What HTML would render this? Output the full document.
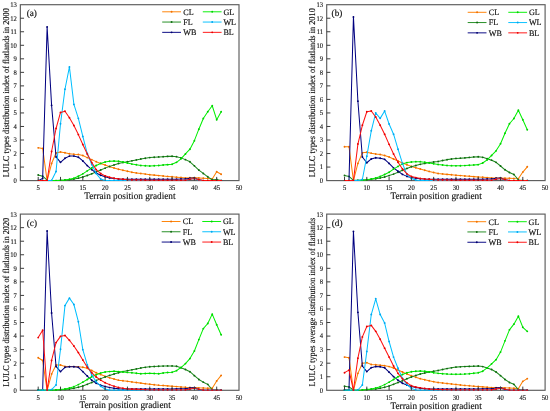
<!DOCTYPE html>
<html lang="en"><head><meta charset="utf-8"><title>LULC types distribution index of flatlands</title>
<style>html,body{margin:0;padding:0;background:#fff}body{width:550px;height:411px;overflow:hidden}svg{display:block}</style>
</head><body>
<svg width="550" height="411" viewBox="0 0 550 411" text-rendering="geometricPrecision" font-family="'Liberation Serif', 'Times New Roman', serif" fill="#111111">
<rect width="550" height="411" fill="#ffffff"/>
<g><rect x="20.35" y="4.70" width="218.65" height="175.90" fill="none" stroke="#5c5c5c" stroke-width="1.15"/>
<clipPath id="cpa"><rect x="20.35" y="4.70" width="218.65" height="176.40"/></clipPath><g clip-path="url(#cpa)">
<polyline points="38.20,147.86 42.66,148.40 47.12,180.60 51.59,163.55 56.05,153.00 60.51,151.91 64.97,152.73 69.43,153.81 73.90,154.22 78.36,154.49 82.82,155.57 87.28,157.60 91.75,159.63 96.21,161.66 100.67,163.42 105.13,165.04 109.59,166.66 114.06,168.02 118.52,169.23 122.98,170.32 127.44,171.26 131.91,172.21 136.37,172.89 140.83,173.56 145.29,174.11 149.76,174.65 154.22,175.12 158.68,175.59 163.14,176.00 167.60,176.41 172.07,176.81 176.53,177.17 180.99,177.53 185.45,177.89 189.92,177.76 194.38,177.62 198.84,177.89 203.30,178.16 207.76,178.57 212.23,178.98 216.69,171.81 221.15,174.24" fill="none" stroke="#FF8000" stroke-width="1.02" stroke-linejoin="round"/>
<path d="M38.20 147.86h0M42.66 148.40h0M47.12 180.60h0M51.59 163.55h0M56.05 153.00h0M60.51 151.91h0M64.97 152.73h0M69.43 153.81h0M73.90 154.22h0M78.36 154.49h0M82.82 155.57h0M87.28 157.60h0M91.75 159.63h0M96.21 161.66h0M100.67 163.42h0M105.13 165.04h0M109.59 166.66h0M114.06 168.02h0M118.52 169.23h0M122.98 170.32h0M127.44 171.26h0M131.91 172.21h0M136.37 172.89h0M140.83 173.56h0M145.29 174.11h0M149.76 174.65h0M154.22 175.12h0M158.68 175.59h0M163.14 176.00h0M167.60 176.41h0M172.07 176.81h0M176.53 177.17h0M180.99 177.53h0M185.45 177.89h0M189.92 177.76h0M194.38 177.62h0M198.84 177.89h0M203.30 178.16h0M207.76 178.57h0M212.23 178.98h0M216.69 171.81h0M221.15 174.24h0" stroke="#F07000" stroke-width="1.90" stroke-linecap="round" fill="none"/>
<polyline points="38.20,175.05 42.66,176.13 47.12,180.19 51.59,180.60 56.05,180.60 60.51,180.33 64.97,180.06 69.43,179.65 73.90,178.98 78.36,178.16 82.82,176.95 87.28,175.46 91.75,173.83 96.21,171.94 100.67,170.05 105.13,168.15 109.59,166.39 114.06,164.90 118.52,163.55 122.98,162.47 127.44,161.66 131.91,160.85 136.37,159.90 140.83,158.95 145.29,158.27 149.76,157.60 154.22,157.26 158.68,156.92 163.14,156.65 167.60,156.38 172.07,156.24 176.53,156.65 180.99,157.87 185.45,159.63 189.92,161.79 194.38,165.85 198.84,170.05 203.30,173.43 207.76,176.81 212.23,179.79 216.69,179.52 221.15,180.60" fill="none" stroke="#1E8A1E" stroke-width="1.02" stroke-linejoin="round"/>
<path d="M38.20 175.05h0M42.66 176.13h0M47.12 180.19h0M51.59 180.60h0M56.05 180.60h0M60.51 180.33h0M64.97 180.06h0M69.43 179.65h0M73.90 178.98h0M78.36 178.16h0M82.82 176.95h0M87.28 175.46h0M91.75 173.83h0M96.21 171.94h0M100.67 170.05h0M105.13 168.15h0M109.59 166.39h0M114.06 164.90h0M118.52 163.55h0M122.98 162.47h0M127.44 161.66h0M131.91 160.85h0M136.37 159.90h0M140.83 158.95h0M145.29 158.27h0M149.76 157.60h0M154.22 157.26h0M158.68 156.92h0M163.14 156.65h0M167.60 156.38h0M172.07 156.24h0M176.53 156.65h0M180.99 157.87h0M185.45 159.63h0M189.92 161.79h0M194.38 165.85h0M198.84 170.05h0M203.30 173.43h0M207.76 176.81h0M212.23 179.79h0M216.69 179.52h0M221.15 180.60h0" stroke="#0F6A0F" stroke-width="1.90" stroke-linecap="round" fill="none"/>
<polyline points="38.20,180.60 42.66,178.57 47.12,26.89 51.59,105.37 56.05,156.92 60.51,162.33 64.97,158.27 69.43,156.11 73.90,156.11 78.36,157.19 82.82,160.98 87.28,165.58 91.75,169.64 96.21,173.02 100.67,175.19 105.13,176.81 109.59,177.89 114.06,178.57 118.52,178.98 122.98,179.25 127.44,179.25 131.91,179.25 136.37,179.25 140.83,179.25 145.29,179.25 149.76,179.25 154.22,179.25 158.68,179.25 163.14,179.25 167.60,179.25 172.07,179.25 176.53,179.16 180.99,179.07 185.45,178.98 189.92,178.30 194.38,177.89 198.84,179.79 203.30,180.60 207.76,180.60 212.23,180.60 216.69,180.60 221.15,180.60" fill="none" stroke="#000080" stroke-width="1.02" stroke-linejoin="round"/>
<path d="M38.20 180.60h0M42.66 178.57h0M47.12 26.89h0M51.59 105.37h0M56.05 156.92h0M60.51 162.33h0M64.97 158.27h0M69.43 156.11h0M73.90 156.11h0M78.36 157.19h0M82.82 160.98h0M87.28 165.58h0M91.75 169.64h0M96.21 173.02h0M100.67 175.19h0M105.13 176.81h0M109.59 177.89h0M114.06 178.57h0M118.52 178.98h0M122.98 179.25h0M127.44 179.25h0M131.91 179.25h0M136.37 179.25h0M140.83 179.25h0M145.29 179.25h0M149.76 179.25h0M154.22 179.25h0M158.68 179.25h0M163.14 179.25h0M167.60 179.25h0M172.07 179.25h0M176.53 179.16h0M180.99 179.07h0M185.45 178.98h0M189.92 178.30h0M194.38 177.89h0M198.84 179.79h0M203.30 180.60h0M207.76 180.60h0M212.23 180.60h0M216.69 180.60h0M221.15 180.60h0" stroke="#000070" stroke-width="1.90" stroke-linecap="round" fill="none"/>
<polyline points="38.20,180.60 42.66,180.60 47.12,180.60 51.59,180.60 56.05,180.60 60.51,180.33 64.97,179.92 69.43,179.25 73.90,178.16 78.36,176.27 82.82,173.83 87.28,170.86 91.75,168.02 96.21,165.45 100.67,163.42 105.13,162.06 109.59,161.25 114.06,160.98 118.52,161.25 122.98,161.93 127.44,163.01 131.91,164.09 136.37,164.77 140.83,165.45 145.29,165.72 149.76,165.99 154.22,165.72 158.68,165.45 163.14,165.04 167.60,164.63 172.07,164.23 176.53,162.33 180.99,158.82 185.45,153.94 189.92,149.21 194.38,140.68 198.84,129.18 203.30,118.49 207.76,111.73 212.23,105.77 216.69,119.71 221.15,111.73" fill="none" stroke="#00F000" stroke-width="1.02" stroke-linejoin="round"/>
<path d="M38.20 180.60h0M42.66 180.60h0M47.12 180.60h0M51.59 180.60h0M56.05 180.60h0M60.51 180.33h0M64.97 179.92h0M69.43 179.25h0M73.90 178.16h0M78.36 176.27h0M82.82 173.83h0M87.28 170.86h0M91.75 168.02h0M96.21 165.45h0M100.67 163.42h0M105.13 162.06h0M109.59 161.25h0M114.06 160.98h0M118.52 161.25h0M122.98 161.93h0M127.44 163.01h0M131.91 164.09h0M136.37 164.77h0M140.83 165.45h0M145.29 165.72h0M149.76 165.99h0M154.22 165.72h0M158.68 165.45h0M163.14 165.04h0M167.60 164.63h0M172.07 164.23h0M176.53 162.33h0M180.99 158.82h0M185.45 153.94h0M189.92 149.21h0M194.38 140.68h0M198.84 129.18h0M203.30 118.49h0M207.76 111.73h0M212.23 105.77h0M216.69 119.71h0M221.15 111.73h0" stroke="#00D000" stroke-width="1.90" stroke-linecap="round" fill="none"/>
<polyline points="38.20,180.60 42.66,180.60 47.12,180.60 51.59,180.60 56.05,171.53 60.51,123.77 64.97,89.27 69.43,66.94 73.90,104.42 78.36,118.36 82.82,136.49 87.28,153.54 91.75,164.50 96.21,173.56 100.67,178.98 105.13,180.60 109.59,180.60 114.06,180.60 118.52,180.60 122.98,180.60 127.44,180.60 131.91,180.60 136.37,180.60 140.83,180.60 145.29,180.60 149.76,180.60 154.22,180.60 158.68,180.60 163.14,180.60 167.60,180.60 172.07,180.60 176.53,180.60 180.99,180.60 185.45,180.19 189.92,179.25 194.38,178.57 198.84,180.19 203.30,180.60 207.76,180.60 212.23,180.60 216.69,180.60 221.15,180.60" fill="none" stroke="#00BFFF" stroke-width="1.02" stroke-linejoin="round"/>
<path d="M38.20 180.60h0M42.66 180.60h0M47.12 180.60h0M51.59 180.60h0M56.05 171.53h0M60.51 123.77h0M64.97 89.27h0M69.43 66.94h0M73.90 104.42h0M78.36 118.36h0M82.82 136.49h0M87.28 153.54h0M91.75 164.50h0M96.21 173.56h0M100.67 178.98h0M105.13 180.60h0M109.59 180.60h0M114.06 180.60h0M118.52 180.60h0M122.98 180.60h0M127.44 180.60h0M131.91 180.60h0M136.37 180.60h0M140.83 180.60h0M145.29 180.60h0M149.76 180.60h0M154.22 180.60h0M158.68 180.60h0M163.14 180.60h0M167.60 180.60h0M172.07 180.60h0M176.53 180.60h0M180.99 180.60h0M185.45 180.19h0M189.92 179.25h0M194.38 178.57h0M198.84 180.19h0M203.30 180.60h0M207.76 180.60h0M212.23 180.60h0M216.69 180.60h0M221.15 180.60h0" stroke="#00A8F0" stroke-width="1.90" stroke-linecap="round" fill="none"/>
<polyline points="38.20,180.60 42.66,180.60 47.12,180.60 51.59,151.51 56.05,128.51 60.51,112.40 64.97,111.19 69.43,117.68 73.90,125.53 78.36,134.60 82.82,144.47 87.28,154.08 91.75,162.60 96.21,169.64 100.67,173.56 105.13,175.86 109.59,177.22 114.06,178.16 118.52,178.84 122.98,179.25 127.44,179.79 131.91,179.90 136.37,180.00 140.83,180.11 145.29,180.22 149.76,180.33 154.22,180.33 158.68,180.33 163.14,180.33 167.60,180.33 172.07,180.33 176.53,180.33 180.99,180.33 185.45,180.33 189.92,179.25 194.38,178.44 198.84,179.79 203.30,180.60 207.76,180.60 212.23,180.60 216.69,180.60 221.15,180.60" fill="none" stroke="#FF1010" stroke-width="1.02" stroke-linejoin="round"/>
<path d="M38.20 180.60h0M42.66 180.60h0M47.12 180.60h0M51.59 151.51h0M56.05 128.51h0M60.51 112.40h0M64.97 111.19h0M69.43 117.68h0M73.90 125.53h0M78.36 134.60h0M82.82 144.47h0M87.28 154.08h0M91.75 162.60h0M96.21 169.64h0M100.67 173.56h0M105.13 175.86h0M109.59 177.22h0M114.06 178.16h0M118.52 178.84h0M122.98 179.25h0M127.44 179.79h0M131.91 179.90h0M136.37 180.00h0M140.83 180.11h0M145.29 180.22h0M149.76 180.33h0M154.22 180.33h0M158.68 180.33h0M163.14 180.33h0M167.60 180.33h0M172.07 180.33h0M176.53 180.33h0M180.99 180.33h0M185.45 180.33h0M189.92 179.25h0M194.38 178.44h0M198.84 179.79h0M203.30 180.60h0M207.76 180.60h0M212.23 180.60h0M216.69 180.60h0M221.15 180.60h0" stroke="#E80000" stroke-width="1.90" stroke-linecap="round" fill="none"/>
</g>
<path d="M38.20 180.60v-3.7M60.51 180.60v-3.7M82.82 180.60v-3.7M105.13 180.60v-3.7M127.44 180.60v-3.7M149.76 180.60v-3.7M172.07 180.60v-3.7M194.38 180.60v-3.7M216.69 180.60v-3.7M20.35 167.07h3.7M20.35 153.54h3.7M20.35 140.01h3.7M20.35 126.48h3.7M20.35 112.95h3.7M20.35 99.42h3.7M20.35 85.88h3.7M20.35 72.35h3.7M20.35 58.82h3.7M20.35 45.29h3.7M20.35 31.76h3.7M20.35 18.23h3.7" stroke="#333333" stroke-width="0.95" fill="none"/>
<text transform="translate(16.75 183.00) scale(0.920 1)" font-size="7.20" text-anchor="end" stroke="#111111" stroke-width="0.12">0</text>
<text transform="translate(16.75 169.47) scale(0.920 1)" font-size="7.20" text-anchor="end" stroke="#111111" stroke-width="0.12">1</text>
<text transform="translate(16.75 155.94) scale(0.920 1)" font-size="7.20" text-anchor="end" stroke="#111111" stroke-width="0.12">2</text>
<text transform="translate(16.75 142.41) scale(0.920 1)" font-size="7.20" text-anchor="end" stroke="#111111" stroke-width="0.12">3</text>
<text transform="translate(16.75 128.88) scale(0.920 1)" font-size="7.20" text-anchor="end" stroke="#111111" stroke-width="0.12">4</text>
<text transform="translate(16.75 115.35) scale(0.920 1)" font-size="7.20" text-anchor="end" stroke="#111111" stroke-width="0.12">5</text>
<text transform="translate(16.75 101.82) scale(0.920 1)" font-size="7.20" text-anchor="end" stroke="#111111" stroke-width="0.12">6</text>
<text transform="translate(16.75 88.28) scale(0.920 1)" font-size="7.20" text-anchor="end" stroke="#111111" stroke-width="0.12">7</text>
<text transform="translate(16.75 74.75) scale(0.920 1)" font-size="7.20" text-anchor="end" stroke="#111111" stroke-width="0.12">8</text>
<text transform="translate(16.75 61.22) scale(0.920 1)" font-size="7.20" text-anchor="end" stroke="#111111" stroke-width="0.12">9</text>
<text transform="translate(16.75 47.69) scale(0.920 1)" font-size="7.20" text-anchor="end" stroke="#111111" stroke-width="0.12">10</text>
<text transform="translate(16.75 34.16) scale(0.920 1)" font-size="7.20" text-anchor="end" stroke="#111111" stroke-width="0.12">11</text>
<text transform="translate(16.75 20.63) scale(0.920 1)" font-size="7.20" text-anchor="end" stroke="#111111" stroke-width="0.12">12</text>
<text transform="translate(16.75 7.10) scale(0.920 1)" font-size="7.20" text-anchor="end" stroke="#111111" stroke-width="0.12">13</text>
<text transform="translate(38.20 190.00) scale(0.920 1)" font-size="7.20" text-anchor="middle" stroke="#111111" stroke-width="0.12">5</text>
<text transform="translate(60.51 190.00) scale(0.920 1)" font-size="7.20" text-anchor="middle" stroke="#111111" stroke-width="0.12">10</text>
<text transform="translate(82.82 190.00) scale(0.920 1)" font-size="7.20" text-anchor="middle" stroke="#111111" stroke-width="0.12">15</text>
<text transform="translate(105.13 190.00) scale(0.920 1)" font-size="7.20" text-anchor="middle" stroke="#111111" stroke-width="0.12">20</text>
<text transform="translate(127.44 190.00) scale(0.920 1)" font-size="7.20" text-anchor="middle" stroke="#111111" stroke-width="0.12">25</text>
<text transform="translate(149.76 190.00) scale(0.920 1)" font-size="7.20" text-anchor="middle" stroke="#111111" stroke-width="0.12">30</text>
<text transform="translate(172.07 190.00) scale(0.920 1)" font-size="7.20" text-anchor="middle" stroke="#111111" stroke-width="0.12">35</text>
<text transform="translate(194.38 190.00) scale(0.920 1)" font-size="7.20" text-anchor="middle" stroke="#111111" stroke-width="0.12">40</text>
<text transform="translate(216.69 190.00) scale(0.920 1)" font-size="7.20" text-anchor="middle" stroke="#111111" stroke-width="0.12">45</text>
<text transform="translate(239.00 190.00) scale(0.920 1)" font-size="7.20" text-anchor="middle" stroke="#111111" stroke-width="0.12">50</text>
<text transform="translate(129.88 199.30) scale(0.944 1)" font-size="9.80" text-anchor="middle" stroke="#111111" stroke-width="0.14">Terrain position gradient</text>
<text transform="translate(9.05 92.75) rotate(-90) scale(0.923 1)" font-size="9.00" text-anchor="middle" stroke="#111111" stroke-width="0.14">LULC types distribution index of flatlands in 2000</text>
<text transform="translate(26.65 16.10)" font-size="9.20" text-anchor="start" stroke="#111111" stroke-width="0.18">(a)</text>
<path d="M162.20 11.80H181.00" stroke="#FF8000" stroke-width="0.95"/>
<path d="M171.60 11.80h0" stroke="#F07000" stroke-width="1.90" stroke-linecap="round"/>
<text transform="translate(183.30 14.60) scale(0.980 1)" font-size="8.30" text-anchor="start" stroke="#111111" stroke-width="0.15">CL</text>
<path d="M162.20 22.05H181.00" stroke="#1E8A1E" stroke-width="0.95"/>
<path d="M171.60 22.05h0" stroke="#0F6A0F" stroke-width="1.90" stroke-linecap="round"/>
<text transform="translate(183.30 24.85) scale(0.980 1)" font-size="8.30" text-anchor="start" stroke="#111111" stroke-width="0.15">FL</text>
<path d="M162.20 32.35H181.00" stroke="#000080" stroke-width="0.95"/>
<path d="M171.60 32.35h0" stroke="#000070" stroke-width="1.90" stroke-linecap="round"/>
<text transform="translate(183.30 35.15) scale(0.980 1)" font-size="8.30" text-anchor="start" stroke="#111111" stroke-width="0.15">WB</text>
<path d="M202.80 11.80H221.60" stroke="#00F000" stroke-width="0.95"/>
<path d="M212.20 11.80h0" stroke="#00D000" stroke-width="1.90" stroke-linecap="round"/>
<text transform="translate(223.40 14.60) scale(0.980 1)" font-size="8.30" text-anchor="start" stroke="#111111" stroke-width="0.15">GL</text>
<path d="M202.80 22.05H221.60" stroke="#00BFFF" stroke-width="0.95"/>
<path d="M212.20 22.05h0" stroke="#00A8F0" stroke-width="1.90" stroke-linecap="round"/>
<text transform="translate(223.40 24.85) scale(0.980 1)" font-size="8.30" text-anchor="start" stroke="#111111" stroke-width="0.15">WL</text>
<path d="M202.80 32.35H221.60" stroke="#FF1010" stroke-width="0.95"/>
<path d="M212.20 32.35h0" stroke="#E80000" stroke-width="1.90" stroke-linecap="round"/>
<text transform="translate(223.40 35.15) scale(0.980 1)" font-size="8.30" text-anchor="start" stroke="#111111" stroke-width="0.15">BL</text></g>
<g><rect x="326.70" y="4.70" width="218.40" height="175.90" fill="none" stroke="#5c5c5c" stroke-width="1.15"/>
<clipPath id="cpb"><rect x="326.70" y="4.70" width="218.40" height="176.40"/></clipPath><g clip-path="url(#cpb)">
<polyline points="344.53,146.77 348.99,146.77 353.44,180.60 357.90,163.42 362.36,152.86 366.81,152.19 371.27,153.13 375.73,153.94 380.19,154.49 384.64,155.57 389.10,156.92 393.56,158.95 398.01,160.98 402.47,163.01 406.93,164.77 411.39,166.39 415.84,167.75 420.30,168.96 424.76,170.18 429.21,171.40 433.67,172.48 438.13,173.43 442.59,173.90 447.04,174.38 451.50,174.78 455.96,175.19 460.41,175.59 464.87,176.00 469.33,176.32 473.79,176.63 478.24,176.95 482.70,177.26 487.16,177.58 491.61,177.89 496.07,177.89 500.53,177.89 504.99,178.16 509.44,178.30 513.90,178.57 518.36,178.71 522.81,172.08 527.27,166.80" fill="none" stroke="#FF8000" stroke-width="1.02" stroke-linejoin="round"/>
<path d="M344.53 146.77h0M348.99 146.77h0M353.44 180.60h0M357.90 163.42h0M362.36 152.86h0M366.81 152.19h0M371.27 153.13h0M375.73 153.94h0M380.19 154.49h0M384.64 155.57h0M389.10 156.92h0M393.56 158.95h0M398.01 160.98h0M402.47 163.01h0M406.93 164.77h0M411.39 166.39h0M415.84 167.75h0M420.30 168.96h0M424.76 170.18h0M429.21 171.40h0M433.67 172.48h0M438.13 173.43h0M442.59 173.90h0M447.04 174.38h0M451.50 174.78h0M455.96 175.19h0M460.41 175.59h0M464.87 176.00h0M469.33 176.32h0M473.79 176.63h0M478.24 176.95h0M482.70 177.26h0M487.16 177.58h0M491.61 177.89h0M496.07 177.89h0M500.53 177.89h0M504.99 178.16h0M509.44 178.30h0M513.90 178.57h0M518.36 178.71h0M522.81 172.08h0M527.27 166.80h0" stroke="#F07000" stroke-width="1.90" stroke-linecap="round" fill="none"/>
<polyline points="344.53,175.46 348.99,176.41 353.44,180.33 357.90,180.33 362.36,180.06 366.81,179.65 371.27,179.25 375.73,178.71 380.19,177.89 384.64,176.95 389.10,175.59 393.56,174.11 398.01,172.21 402.47,170.18 406.93,168.42 411.39,166.80 415.84,165.45 420.30,164.36 424.76,163.42 429.21,162.60 433.67,162.06 438.13,161.52 442.59,160.57 447.04,159.63 451.50,159.02 455.96,158.41 460.41,158.14 464.87,157.87 469.33,157.39 473.79,156.92 478.24,156.79 482.70,157.33 487.16,158.68 491.61,160.17 496.07,162.33 500.53,165.99 504.99,169.78 509.44,172.48 513.90,174.51 518.36,179.92 522.81,180.60 527.27,180.60" fill="none" stroke="#1E8A1E" stroke-width="1.02" stroke-linejoin="round"/>
<path d="M344.53 175.46h0M348.99 176.41h0M353.44 180.33h0M357.90 180.33h0M362.36 180.06h0M366.81 179.65h0M371.27 179.25h0M375.73 178.71h0M380.19 177.89h0M384.64 176.95h0M389.10 175.59h0M393.56 174.11h0M398.01 172.21h0M402.47 170.18h0M406.93 168.42h0M411.39 166.80h0M415.84 165.45h0M420.30 164.36h0M424.76 163.42h0M429.21 162.60h0M433.67 162.06h0M438.13 161.52h0M442.59 160.57h0M447.04 159.63h0M451.50 159.02h0M455.96 158.41h0M460.41 158.14h0M464.87 157.87h0M469.33 157.39h0M473.79 156.92h0M478.24 156.79h0M482.70 157.33h0M487.16 158.68h0M491.61 160.17h0M496.07 162.33h0M500.53 165.99h0M504.99 169.78h0M509.44 172.48h0M513.90 174.51h0M518.36 179.92h0M522.81 180.60h0M527.27 180.60h0" stroke="#0F6A0F" stroke-width="1.90" stroke-linecap="round" fill="none"/>
<polyline points="344.53,180.60 348.99,180.60 353.44,16.88 357.90,101.17 362.36,157.06 366.81,162.74 371.27,158.95 375.73,157.73 380.19,158.27 384.64,159.36 389.10,163.42 393.56,167.88 398.01,171.26 402.47,174.38 406.93,176.41 411.39,177.62 415.84,178.30 420.30,178.84 424.76,179.11 429.21,179.25 433.67,179.25 438.13,179.25 442.59,179.25 447.04,179.25 451.50,179.25 455.96,179.25 460.41,179.25 464.87,179.25 469.33,179.25 473.79,179.25 478.24,179.25 482.70,179.16 487.16,179.07 491.61,178.98 496.07,178.30 500.53,177.89 504.99,179.79 509.44,180.60 513.90,180.60 518.36,180.60 522.81,180.60 527.27,180.60" fill="none" stroke="#000080" stroke-width="1.02" stroke-linejoin="round"/>
<path d="M344.53 180.60h0M348.99 180.60h0M353.44 16.88h0M357.90 101.17h0M362.36 157.06h0M366.81 162.74h0M371.27 158.95h0M375.73 157.73h0M380.19 158.27h0M384.64 159.36h0M389.10 163.42h0M393.56 167.88h0M398.01 171.26h0M402.47 174.38h0M406.93 176.41h0M411.39 177.62h0M415.84 178.30h0M420.30 178.84h0M424.76 179.11h0M429.21 179.25h0M433.67 179.25h0M438.13 179.25h0M442.59 179.25h0M447.04 179.25h0M451.50 179.25h0M455.96 179.25h0M460.41 179.25h0M464.87 179.25h0M469.33 179.25h0M473.79 179.25h0M478.24 179.25h0M482.70 179.16h0M487.16 179.07h0M491.61 178.98h0M496.07 178.30h0M500.53 177.89h0M504.99 179.79h0M509.44 180.60h0M513.90 180.60h0M518.36 180.60h0M522.81 180.60h0M527.27 180.60h0" stroke="#000070" stroke-width="1.90" stroke-linecap="round" fill="none"/>
<polyline points="344.53,180.60 348.99,180.60 353.44,180.60 357.90,180.46 362.36,180.19 366.81,179.65 371.27,178.98 375.73,177.89 380.19,176.54 384.64,174.51 389.10,172.21 393.56,169.10 398.01,166.39 402.47,164.09 406.93,162.60 411.39,161.93 415.84,161.66 420.30,161.66 424.76,162.20 429.21,163.01 433.67,163.82 438.13,164.50 442.59,164.97 447.04,165.45 451.50,165.65 455.96,165.85 460.41,165.72 464.87,165.58 469.33,165.24 473.79,164.90 478.24,164.63 482.70,163.01 487.16,159.90 491.61,155.43 496.07,150.83 500.53,143.80 504.99,133.24 509.44,123.77 513.90,118.49 518.36,110.24 522.81,119.71 527.27,129.72" fill="none" stroke="#00F000" stroke-width="1.02" stroke-linejoin="round"/>
<path d="M344.53 180.60h0M348.99 180.60h0M353.44 180.60h0M357.90 180.46h0M362.36 180.19h0M366.81 179.65h0M371.27 178.98h0M375.73 177.89h0M380.19 176.54h0M384.64 174.51h0M389.10 172.21h0M393.56 169.10h0M398.01 166.39h0M402.47 164.09h0M406.93 162.60h0M411.39 161.93h0M415.84 161.66h0M420.30 161.66h0M424.76 162.20h0M429.21 163.01h0M433.67 163.82h0M438.13 164.50h0M442.59 164.97h0M447.04 165.45h0M451.50 165.65h0M455.96 165.85h0M460.41 165.72h0M464.87 165.58h0M469.33 165.24h0M473.79 164.90h0M478.24 164.63h0M482.70 163.01h0M487.16 159.90h0M491.61 155.43h0M496.07 150.83h0M500.53 143.80h0M504.99 133.24h0M509.44 123.77h0M513.90 118.49h0M518.36 110.24h0M522.81 119.71h0M527.27 129.72h0" stroke="#00D000" stroke-width="1.90" stroke-linecap="round" fill="none"/>
<polyline points="344.53,180.60 348.99,180.60 353.44,180.60 357.90,180.60 362.36,179.52 366.81,156.24 371.27,130.81 375.73,112.95 380.19,118.36 384.64,111.05 389.10,124.04 393.56,134.19 398.01,149.21 402.47,163.42 406.93,174.65 411.39,178.44 415.84,180.06 420.30,180.60 424.76,180.60 429.21,180.60 433.67,180.60 438.13,180.60 442.59,180.60 447.04,180.60 451.50,180.60 455.96,180.60 460.41,180.60 464.87,180.60 469.33,180.60 473.79,180.60 478.24,180.60 482.70,180.60 487.16,180.60 491.61,180.19 496.07,179.25 500.53,178.57 504.99,180.19 509.44,180.60 513.90,180.60 518.36,180.60 522.81,180.60 527.27,180.60" fill="none" stroke="#00BFFF" stroke-width="1.02" stroke-linejoin="round"/>
<path d="M344.53 180.60h0M348.99 180.60h0M353.44 180.60h0M357.90 180.60h0M362.36 179.52h0M366.81 156.24h0M371.27 130.81h0M375.73 112.95h0M380.19 118.36h0M384.64 111.05h0M389.10 124.04h0M393.56 134.19h0M398.01 149.21h0M402.47 163.42h0M406.93 174.65h0M411.39 178.44h0M415.84 180.06h0M420.30 180.60h0M424.76 180.60h0M429.21 180.60h0M433.67 180.60h0M438.13 180.60h0M442.59 180.60h0M447.04 180.60h0M451.50 180.60h0M455.96 180.60h0M460.41 180.60h0M464.87 180.60h0M469.33 180.60h0M473.79 180.60h0M478.24 180.60h0M482.70 180.60h0M487.16 180.60h0M491.61 180.19h0M496.07 179.25h0M500.53 178.57h0M504.99 180.19h0M509.44 180.60h0M513.90 180.60h0M518.36 180.60h0M522.81 180.60h0M527.27 180.60h0" stroke="#00A8F0" stroke-width="1.90" stroke-linecap="round" fill="none"/>
<polyline points="344.53,180.60 348.99,180.60 353.44,180.60 357.90,144.07 362.36,125.26 366.81,111.73 371.27,111.05 375.73,117.01 380.19,125.26 384.64,134.19 389.10,144.34 393.56,153.94 398.01,162.20 402.47,168.96 406.93,173.83 411.39,176.54 415.84,177.62 420.30,178.44 424.76,178.98 429.21,179.25 433.67,179.79 438.13,179.90 442.59,180.00 447.04,180.11 451.50,180.22 455.96,180.33 460.41,180.33 464.87,180.33 469.33,180.33 473.79,180.33 478.24,180.33 482.70,180.33 487.16,180.33 491.61,180.33 496.07,179.25 500.53,178.44 504.99,179.79 509.44,180.60 513.90,180.60 518.36,180.60 522.81,180.60 527.27,180.60" fill="none" stroke="#FF1010" stroke-width="1.02" stroke-linejoin="round"/>
<path d="M344.53 180.60h0M348.99 180.60h0M353.44 180.60h0M357.90 144.07h0M362.36 125.26h0M366.81 111.73h0M371.27 111.05h0M375.73 117.01h0M380.19 125.26h0M384.64 134.19h0M389.10 144.34h0M393.56 153.94h0M398.01 162.20h0M402.47 168.96h0M406.93 173.83h0M411.39 176.54h0M415.84 177.62h0M420.30 178.44h0M424.76 178.98h0M429.21 179.25h0M433.67 179.79h0M438.13 179.90h0M442.59 180.00h0M447.04 180.11h0M451.50 180.22h0M455.96 180.33h0M460.41 180.33h0M464.87 180.33h0M469.33 180.33h0M473.79 180.33h0M478.24 180.33h0M482.70 180.33h0M487.16 180.33h0M491.61 180.33h0M496.07 179.25h0M500.53 178.44h0M504.99 179.79h0M509.44 180.60h0M513.90 180.60h0M518.36 180.60h0M522.81 180.60h0M527.27 180.60h0" stroke="#E80000" stroke-width="1.90" stroke-linecap="round" fill="none"/>
</g>
<path d="M344.53 180.60v-3.7M366.81 180.60v-3.7M389.10 180.60v-3.7M411.39 180.60v-3.7M433.67 180.60v-3.7M455.96 180.60v-3.7M478.24 180.60v-3.7M500.53 180.60v-3.7M522.81 180.60v-3.7M326.70 167.07h3.7M326.70 153.54h3.7M326.70 140.01h3.7M326.70 126.48h3.7M326.70 112.95h3.7M326.70 99.42h3.7M326.70 85.88h3.7M326.70 72.35h3.7M326.70 58.82h3.7M326.70 45.29h3.7M326.70 31.76h3.7M326.70 18.23h3.7" stroke="#333333" stroke-width="0.95" fill="none"/>
<text transform="translate(323.10 183.00) scale(0.920 1)" font-size="7.20" text-anchor="end" stroke="#111111" stroke-width="0.12">0</text>
<text transform="translate(323.10 169.47) scale(0.920 1)" font-size="7.20" text-anchor="end" stroke="#111111" stroke-width="0.12">1</text>
<text transform="translate(323.10 155.94) scale(0.920 1)" font-size="7.20" text-anchor="end" stroke="#111111" stroke-width="0.12">2</text>
<text transform="translate(323.10 142.41) scale(0.920 1)" font-size="7.20" text-anchor="end" stroke="#111111" stroke-width="0.12">3</text>
<text transform="translate(323.10 128.88) scale(0.920 1)" font-size="7.20" text-anchor="end" stroke="#111111" stroke-width="0.12">4</text>
<text transform="translate(323.10 115.35) scale(0.920 1)" font-size="7.20" text-anchor="end" stroke="#111111" stroke-width="0.12">5</text>
<text transform="translate(323.10 101.82) scale(0.920 1)" font-size="7.20" text-anchor="end" stroke="#111111" stroke-width="0.12">6</text>
<text transform="translate(323.10 88.28) scale(0.920 1)" font-size="7.20" text-anchor="end" stroke="#111111" stroke-width="0.12">7</text>
<text transform="translate(323.10 74.75) scale(0.920 1)" font-size="7.20" text-anchor="end" stroke="#111111" stroke-width="0.12">8</text>
<text transform="translate(323.10 61.22) scale(0.920 1)" font-size="7.20" text-anchor="end" stroke="#111111" stroke-width="0.12">9</text>
<text transform="translate(323.10 47.69) scale(0.920 1)" font-size="7.20" text-anchor="end" stroke="#111111" stroke-width="0.12">10</text>
<text transform="translate(323.10 34.16) scale(0.920 1)" font-size="7.20" text-anchor="end" stroke="#111111" stroke-width="0.12">11</text>
<text transform="translate(323.10 20.63) scale(0.920 1)" font-size="7.20" text-anchor="end" stroke="#111111" stroke-width="0.12">12</text>
<text transform="translate(323.10 7.10) scale(0.920 1)" font-size="7.20" text-anchor="end" stroke="#111111" stroke-width="0.12">13</text>
<text transform="translate(344.53 190.00) scale(0.920 1)" font-size="7.20" text-anchor="middle" stroke="#111111" stroke-width="0.12">5</text>
<text transform="translate(366.81 190.00) scale(0.920 1)" font-size="7.20" text-anchor="middle" stroke="#111111" stroke-width="0.12">10</text>
<text transform="translate(389.10 190.00) scale(0.920 1)" font-size="7.20" text-anchor="middle" stroke="#111111" stroke-width="0.12">15</text>
<text transform="translate(411.39 190.00) scale(0.920 1)" font-size="7.20" text-anchor="middle" stroke="#111111" stroke-width="0.12">20</text>
<text transform="translate(433.67 190.00) scale(0.920 1)" font-size="7.20" text-anchor="middle" stroke="#111111" stroke-width="0.12">25</text>
<text transform="translate(455.96 190.00) scale(0.920 1)" font-size="7.20" text-anchor="middle" stroke="#111111" stroke-width="0.12">30</text>
<text transform="translate(478.24 190.00) scale(0.920 1)" font-size="7.20" text-anchor="middle" stroke="#111111" stroke-width="0.12">35</text>
<text transform="translate(500.53 190.00) scale(0.920 1)" font-size="7.20" text-anchor="middle" stroke="#111111" stroke-width="0.12">40</text>
<text transform="translate(522.81 190.00) scale(0.920 1)" font-size="7.20" text-anchor="middle" stroke="#111111" stroke-width="0.12">45</text>
<text transform="translate(545.10 190.00) scale(0.920 1)" font-size="7.20" text-anchor="middle" stroke="#111111" stroke-width="0.12">50</text>
<text transform="translate(436.10 199.30) scale(0.944 1)" font-size="9.80" text-anchor="middle" stroke="#111111" stroke-width="0.14">Terrain position gradient</text>
<text transform="translate(315.40 92.75) rotate(-90) scale(0.923 1)" font-size="9.00" text-anchor="middle" stroke="#111111" stroke-width="0.14">LULC types distribution index of flatlands in 2010</text>
<text transform="translate(331.60 16.10)" font-size="9.20" text-anchor="start" stroke="#111111" stroke-width="0.18">(b)</text>
<path d="M467.70 12.30H486.50" stroke="#FF8000" stroke-width="0.95"/>
<path d="M477.10 12.30h0" stroke="#F07000" stroke-width="1.90" stroke-linecap="round"/>
<text transform="translate(488.80 15.10) scale(0.980 1)" font-size="8.30" text-anchor="start" stroke="#111111" stroke-width="0.15">CL</text>
<path d="M467.70 22.55H486.50" stroke="#1E8A1E" stroke-width="0.95"/>
<path d="M477.10 22.55h0" stroke="#0F6A0F" stroke-width="1.90" stroke-linecap="round"/>
<text transform="translate(488.80 25.35) scale(0.980 1)" font-size="8.30" text-anchor="start" stroke="#111111" stroke-width="0.15">FL</text>
<path d="M467.70 32.85H486.50" stroke="#000080" stroke-width="0.95"/>
<path d="M477.10 32.85h0" stroke="#000070" stroke-width="1.90" stroke-linecap="round"/>
<text transform="translate(488.80 35.65) scale(0.980 1)" font-size="8.30" text-anchor="start" stroke="#111111" stroke-width="0.15">WB</text>
<path d="M508.30 12.30H527.10" stroke="#00F000" stroke-width="0.95"/>
<path d="M517.70 12.30h0" stroke="#00D000" stroke-width="1.90" stroke-linecap="round"/>
<text transform="translate(528.90 15.10) scale(0.980 1)" font-size="8.30" text-anchor="start" stroke="#111111" stroke-width="0.15">GL</text>
<path d="M508.30 22.55H527.10" stroke="#00BFFF" stroke-width="0.95"/>
<path d="M517.70 22.55h0" stroke="#00A8F0" stroke-width="1.90" stroke-linecap="round"/>
<text transform="translate(528.90 25.35) scale(0.980 1)" font-size="8.30" text-anchor="start" stroke="#111111" stroke-width="0.15">WL</text>
<path d="M508.30 32.85H527.10" stroke="#FF1010" stroke-width="0.95"/>
<path d="M517.70 32.85h0" stroke="#E80000" stroke-width="1.90" stroke-linecap="round"/>
<text transform="translate(528.90 35.65) scale(0.980 1)" font-size="8.30" text-anchor="start" stroke="#111111" stroke-width="0.15">BL</text></g>
<g><rect x="20.35" y="214.10" width="218.65" height="176.20" fill="none" stroke="#5c5c5c" stroke-width="1.15"/>
<clipPath id="cpc"><rect x="20.35" y="214.10" width="218.65" height="176.70"/></clipPath><g clip-path="url(#cpc)">
<polyline points="38.20,357.77 42.66,360.48 47.12,390.30 51.59,374.04 56.05,364.95 60.51,364.95 64.97,366.45 69.43,366.58 73.90,366.58 78.36,366.85 82.82,367.26 87.28,368.34 91.75,370.51 96.21,372.68 100.67,374.58 105.13,376.34 109.59,377.83 114.06,379.05 118.52,380.13 122.98,380.81 127.44,381.35 131.91,381.90 136.37,382.51 140.83,383.12 145.29,383.66 149.76,384.20 154.22,384.68 158.68,385.15 163.14,385.51 167.60,385.87 172.07,386.23 176.53,386.60 180.99,386.96 185.45,387.32 189.92,387.45 194.38,387.59 198.84,387.86 203.30,388.00 207.76,388.27 212.23,388.27 216.69,380.95 221.15,375.39" fill="none" stroke="#FF8000" stroke-width="1.02" stroke-linejoin="round"/>
<path d="M38.20 357.77h0M42.66 360.48h0M47.12 390.30h0M51.59 374.04h0M56.05 364.95h0M60.51 364.95h0M64.97 366.45h0M69.43 366.58h0M73.90 366.58h0M78.36 366.85h0M82.82 367.26h0M87.28 368.34h0M91.75 370.51h0M96.21 372.68h0M100.67 374.58h0M105.13 376.34h0M109.59 377.83h0M114.06 379.05h0M118.52 380.13h0M122.98 380.81h0M127.44 381.35h0M131.91 381.90h0M136.37 382.51h0M140.83 383.12h0M145.29 383.66h0M149.76 384.20h0M154.22 384.68h0M158.68 385.15h0M163.14 385.51h0M167.60 385.87h0M172.07 386.23h0M176.53 386.60h0M180.99 386.96h0M185.45 387.32h0M189.92 387.45h0M194.38 387.59h0M198.84 387.86h0M203.30 388.00h0M207.76 388.27h0M212.23 388.27h0M216.69 380.95h0M221.15 375.39h0" stroke="#F07000" stroke-width="1.90" stroke-linecap="round" fill="none"/>
<polyline points="38.20,390.30 42.66,390.30 47.12,390.30 51.59,390.30 56.05,390.03 60.51,389.76 64.97,389.49 69.43,388.94 73.90,388.27 78.36,387.32 82.82,385.96 87.28,384.34 91.75,382.44 96.21,380.54 100.67,378.64 105.13,377.02 109.59,375.39 114.06,374.04 118.52,372.68 122.98,371.60 127.44,370.65 131.91,369.83 136.37,368.88 140.83,367.94 145.29,367.33 149.76,366.72 154.22,366.51 158.68,366.31 163.14,366.11 167.60,365.90 172.07,365.90 176.53,366.31 180.99,367.67 185.45,369.43 189.92,371.73 194.38,375.66 198.84,379.46 203.30,382.17 207.76,384.34 212.23,389.76 216.69,390.30 221.15,390.30" fill="none" stroke="#1E8A1E" stroke-width="1.02" stroke-linejoin="round"/>
<path d="M38.20 390.30h0M42.66 390.30h0M47.12 390.30h0M51.59 390.30h0M56.05 390.03h0M60.51 389.76h0M64.97 389.49h0M69.43 388.94h0M73.90 388.27h0M78.36 387.32h0M82.82 385.96h0M87.28 384.34h0M91.75 382.44h0M96.21 380.54h0M100.67 378.64h0M105.13 377.02h0M109.59 375.39h0M114.06 374.04h0M118.52 372.68h0M122.98 371.60h0M127.44 370.65h0M131.91 369.83h0M136.37 368.88h0M140.83 367.94h0M145.29 367.33h0M149.76 366.72h0M154.22 366.51h0M158.68 366.31h0M163.14 366.11h0M167.60 365.90h0M172.07 365.90h0M176.53 366.31h0M180.99 367.67h0M185.45 369.43h0M189.92 371.73h0M194.38 375.66h0M198.84 379.46h0M203.30 382.17h0M207.76 384.34h0M212.23 389.76h0M216.69 390.30h0M221.15 390.30h0" stroke="#0F6A0F" stroke-width="1.90" stroke-linecap="round" fill="none"/>
<polyline points="38.20,390.30 42.66,390.30 47.12,231.04 51.59,313.04 56.05,366.45 60.51,371.60 64.97,367.26 69.43,366.72 73.90,366.72 78.36,367.26 82.82,371.60 87.28,376.07 91.75,380.13 96.21,383.25 100.67,385.15 105.13,386.50 109.59,387.59 114.06,388.27 118.52,388.67 122.98,388.94 127.44,388.94 131.91,388.94 136.37,388.94 140.83,388.94 145.29,388.94 149.76,388.94 154.22,388.94 158.68,388.94 163.14,388.94 167.60,388.94 172.07,388.94 176.53,388.85 180.99,388.76 185.45,388.67 189.92,388.00 194.38,387.59 198.84,389.49 203.30,390.30 207.76,390.30 212.23,390.30 216.69,390.30 221.15,390.30" fill="none" stroke="#000080" stroke-width="1.02" stroke-linejoin="round"/>
<path d="M38.20 390.30h0M42.66 390.30h0M47.12 231.04h0M51.59 313.04h0M56.05 366.45h0M60.51 371.60h0M64.97 367.26h0M69.43 366.72h0M73.90 366.72h0M78.36 367.26h0M82.82 371.60h0M87.28 376.07h0M91.75 380.13h0M96.21 383.25h0M100.67 385.15h0M105.13 386.50h0M109.59 387.59h0M114.06 388.27h0M118.52 388.67h0M122.98 388.94h0M127.44 388.94h0M131.91 388.94h0M136.37 388.94h0M140.83 388.94h0M145.29 388.94h0M149.76 388.94h0M154.22 388.94h0M158.68 388.94h0M163.14 388.94h0M167.60 388.94h0M172.07 388.94h0M176.53 388.85h0M180.99 388.76h0M185.45 388.67h0M189.92 388.00h0M194.38 387.59h0M198.84 389.49h0M203.30 390.30h0M207.76 390.30h0M212.23 390.30h0M216.69 390.30h0M221.15 390.30h0" stroke="#000070" stroke-width="1.90" stroke-linecap="round" fill="none"/>
<polyline points="38.20,390.30 42.66,390.30 47.12,390.30 51.59,390.16 56.05,389.89 60.51,389.49 64.97,388.94 69.43,388.00 73.90,386.64 78.36,384.61 82.82,382.17 87.28,379.46 91.75,376.75 96.21,374.71 100.67,373.09 105.13,372.00 109.59,371.60 114.06,371.32 118.52,371.60 122.98,372.00 127.44,372.41 131.91,372.68 136.37,373.22 140.83,373.76 145.29,373.56 149.76,373.36 154.22,373.56 158.68,373.76 163.14,372.95 167.60,372.54 172.07,372.27 176.53,370.65 180.99,367.53 185.45,363.60 189.92,358.58 194.38,350.99 198.84,339.61 203.30,328.63 207.76,323.48 212.23,314.13 216.69,324.70 221.15,334.73" fill="none" stroke="#00F000" stroke-width="1.02" stroke-linejoin="round"/>
<path d="M38.20 390.30h0M42.66 390.30h0M47.12 390.30h0M51.59 390.16h0M56.05 389.89h0M60.51 389.49h0M64.97 388.94h0M69.43 388.00h0M73.90 386.64h0M78.36 384.61h0M82.82 382.17h0M87.28 379.46h0M91.75 376.75h0M96.21 374.71h0M100.67 373.09h0M105.13 372.00h0M109.59 371.60h0M114.06 371.32h0M118.52 371.60h0M122.98 372.00h0M127.44 372.41h0M131.91 372.68h0M136.37 373.22h0M140.83 373.76h0M145.29 373.56h0M149.76 373.36h0M154.22 373.56h0M158.68 373.76h0M163.14 372.95h0M167.60 372.54h0M172.07 372.27h0M176.53 370.65h0M180.99 367.53h0M185.45 363.60h0M189.92 358.58h0M194.38 350.99h0M198.84 339.61h0M203.30 328.63h0M207.76 323.48h0M212.23 314.13h0M216.69 324.70h0M221.15 334.73h0" stroke="#00D000" stroke-width="1.90" stroke-linecap="round" fill="none"/>
<polyline points="38.20,390.30 42.66,390.30 47.12,390.30 51.59,389.62 56.05,385.01 60.51,349.23 64.97,305.59 69.43,298.13 73.90,304.50 78.36,321.72 82.82,349.64 87.28,364.95 91.75,374.98 96.21,381.76 100.67,386.23 105.13,388.94 109.59,390.30 114.06,390.30 118.52,390.30 122.98,390.30 127.44,390.30 131.91,390.30 136.37,390.30 140.83,390.30 145.29,390.30 149.76,390.30 154.22,390.30 158.68,390.30 163.14,390.30 167.60,390.30 172.07,390.30 176.53,390.30 180.99,390.30 185.45,389.89 189.92,388.94 194.38,388.27 198.84,389.89 203.30,390.30 207.76,390.30 212.23,390.30 216.69,390.30 221.15,390.30" fill="none" stroke="#00BFFF" stroke-width="1.02" stroke-linejoin="round"/>
<path d="M38.20 390.30h0M42.66 390.30h0M47.12 390.30h0M51.59 389.62h0M56.05 385.01h0M60.51 349.23h0M64.97 305.59h0M69.43 298.13h0M73.90 304.50h0M78.36 321.72h0M82.82 349.64h0M87.28 364.95h0M91.75 374.98h0M96.21 381.76h0M100.67 386.23h0M105.13 388.94h0M109.59 390.30h0M114.06 390.30h0M118.52 390.30h0M122.98 390.30h0M127.44 390.30h0M131.91 390.30h0M136.37 390.30h0M140.83 390.30h0M145.29 390.30h0M149.76 390.30h0M154.22 390.30h0M158.68 390.30h0M163.14 390.30h0M167.60 390.30h0M172.07 390.30h0M176.53 390.30h0M180.99 390.30h0M185.45 389.89h0M189.92 388.94h0M194.38 388.27h0M198.84 389.89h0M203.30 390.30h0M207.76 390.30h0M212.23 390.30h0M216.69 390.30h0M221.15 390.30h0" stroke="#00A8F0" stroke-width="1.90" stroke-linecap="round" fill="none"/>
<polyline points="38.20,337.58 42.66,330.26 47.12,390.30 51.59,360.48 56.05,342.59 60.51,336.36 64.97,335.41 69.43,340.29 73.90,345.98 78.36,352.62 82.82,359.94 87.28,367.26 91.75,372.68 96.21,377.02 100.67,380.13 105.13,382.71 109.59,384.61 114.06,386.23 118.52,387.45 122.98,388.27 127.44,388.94 131.91,389.13 136.37,389.32 140.83,389.51 145.29,389.70 149.76,389.89 154.22,389.91 158.68,389.93 163.14,389.94 167.60,389.96 172.07,389.98 176.53,390.00 180.99,390.01 185.45,390.03 189.92,388.94 194.38,388.13 198.84,389.49 203.30,390.30 207.76,390.30 212.23,390.30 216.69,390.30 221.15,390.30" fill="none" stroke="#FF1010" stroke-width="1.02" stroke-linejoin="round"/>
<path d="M38.20 337.58h0M42.66 330.26h0M47.12 390.30h0M51.59 360.48h0M56.05 342.59h0M60.51 336.36h0M64.97 335.41h0M69.43 340.29h0M73.90 345.98h0M78.36 352.62h0M82.82 359.94h0M87.28 367.26h0M91.75 372.68h0M96.21 377.02h0M100.67 380.13h0M105.13 382.71h0M109.59 384.61h0M114.06 386.23h0M118.52 387.45h0M122.98 388.27h0M127.44 388.94h0M131.91 389.13h0M136.37 389.32h0M140.83 389.51h0M145.29 389.70h0M149.76 389.89h0M154.22 389.91h0M158.68 389.93h0M163.14 389.94h0M167.60 389.96h0M172.07 389.98h0M176.53 390.00h0M180.99 390.01h0M185.45 390.03h0M189.92 388.94h0M194.38 388.13h0M198.84 389.49h0M203.30 390.30h0M207.76 390.30h0M212.23 390.30h0M216.69 390.30h0M221.15 390.30h0" stroke="#E80000" stroke-width="1.90" stroke-linecap="round" fill="none"/>
</g>
<path d="M38.20 390.30v-3.7M60.51 390.30v-3.7M82.82 390.30v-3.7M105.13 390.30v-3.7M127.44 390.30v-3.7M149.76 390.30v-3.7M172.07 390.30v-3.7M194.38 390.30v-3.7M216.69 390.30v-3.7M20.35 376.75h3.7M20.35 363.19h3.7M20.35 349.64h3.7M20.35 336.08h3.7M20.35 322.53h3.7M20.35 308.98h3.7M20.35 295.42h3.7M20.35 281.87h3.7M20.35 268.32h3.7M20.35 254.76h3.7M20.35 241.21h3.7M20.35 227.65h3.7" stroke="#333333" stroke-width="0.95" fill="none"/>
<text transform="translate(16.75 392.70) scale(0.920 1)" font-size="7.20" text-anchor="end" stroke="#111111" stroke-width="0.12">0</text>
<text transform="translate(16.75 379.15) scale(0.920 1)" font-size="7.20" text-anchor="end" stroke="#111111" stroke-width="0.12">1</text>
<text transform="translate(16.75 365.59) scale(0.920 1)" font-size="7.20" text-anchor="end" stroke="#111111" stroke-width="0.12">2</text>
<text transform="translate(16.75 352.04) scale(0.920 1)" font-size="7.20" text-anchor="end" stroke="#111111" stroke-width="0.12">3</text>
<text transform="translate(16.75 338.48) scale(0.920 1)" font-size="7.20" text-anchor="end" stroke="#111111" stroke-width="0.12">4</text>
<text transform="translate(16.75 324.93) scale(0.920 1)" font-size="7.20" text-anchor="end" stroke="#111111" stroke-width="0.12">5</text>
<text transform="translate(16.75 311.38) scale(0.920 1)" font-size="7.20" text-anchor="end" stroke="#111111" stroke-width="0.12">6</text>
<text transform="translate(16.75 297.82) scale(0.920 1)" font-size="7.20" text-anchor="end" stroke="#111111" stroke-width="0.12">7</text>
<text transform="translate(16.75 284.27) scale(0.920 1)" font-size="7.20" text-anchor="end" stroke="#111111" stroke-width="0.12">8</text>
<text transform="translate(16.75 270.72) scale(0.920 1)" font-size="7.20" text-anchor="end" stroke="#111111" stroke-width="0.12">9</text>
<text transform="translate(16.75 257.16) scale(0.920 1)" font-size="7.20" text-anchor="end" stroke="#111111" stroke-width="0.12">10</text>
<text transform="translate(16.75 243.61) scale(0.920 1)" font-size="7.20" text-anchor="end" stroke="#111111" stroke-width="0.12">11</text>
<text transform="translate(16.75 230.05) scale(0.920 1)" font-size="7.20" text-anchor="end" stroke="#111111" stroke-width="0.12">12</text>
<text transform="translate(16.75 216.50) scale(0.920 1)" font-size="7.20" text-anchor="end" stroke="#111111" stroke-width="0.12">13</text>
<text transform="translate(38.20 399.70) scale(0.920 1)" font-size="7.20" text-anchor="middle" stroke="#111111" stroke-width="0.12">5</text>
<text transform="translate(60.51 399.70) scale(0.920 1)" font-size="7.20" text-anchor="middle" stroke="#111111" stroke-width="0.12">10</text>
<text transform="translate(82.82 399.70) scale(0.920 1)" font-size="7.20" text-anchor="middle" stroke="#111111" stroke-width="0.12">15</text>
<text transform="translate(105.13 399.70) scale(0.920 1)" font-size="7.20" text-anchor="middle" stroke="#111111" stroke-width="0.12">20</text>
<text transform="translate(127.44 399.70) scale(0.920 1)" font-size="7.20" text-anchor="middle" stroke="#111111" stroke-width="0.12">25</text>
<text transform="translate(149.76 399.70) scale(0.920 1)" font-size="7.20" text-anchor="middle" stroke="#111111" stroke-width="0.12">30</text>
<text transform="translate(172.07 399.70) scale(0.920 1)" font-size="7.20" text-anchor="middle" stroke="#111111" stroke-width="0.12">35</text>
<text transform="translate(194.38 399.70) scale(0.920 1)" font-size="7.20" text-anchor="middle" stroke="#111111" stroke-width="0.12">40</text>
<text transform="translate(216.69 399.70) scale(0.920 1)" font-size="7.20" text-anchor="middle" stroke="#111111" stroke-width="0.12">45</text>
<text transform="translate(239.00 399.70) scale(0.920 1)" font-size="7.20" text-anchor="middle" stroke="#111111" stroke-width="0.12">50</text>
<text transform="translate(125.08 408.30) scale(0.944 1)" font-size="9.80" text-anchor="middle" stroke="#111111" stroke-width="0.14">Terrain position gradient</text>
<text transform="translate(9.05 302.30) rotate(-90) scale(0.923 1)" font-size="9.00" text-anchor="middle" stroke="#111111" stroke-width="0.14">LULC types distribution index of flatlands in 2020</text>
<text transform="translate(26.75 226.10)" font-size="9.20" text-anchor="start" stroke="#111111" stroke-width="0.18">(c)</text>
<path d="M161.70 221.50H180.50" stroke="#FF8000" stroke-width="0.95"/>
<path d="M171.10 221.50h0" stroke="#F07000" stroke-width="1.90" stroke-linecap="round"/>
<text transform="translate(182.80 224.30) scale(0.980 1)" font-size="8.30" text-anchor="start" stroke="#111111" stroke-width="0.15">CL</text>
<path d="M161.70 231.75H180.50" stroke="#1E8A1E" stroke-width="0.95"/>
<path d="M171.10 231.75h0" stroke="#0F6A0F" stroke-width="1.90" stroke-linecap="round"/>
<text transform="translate(182.80 234.55) scale(0.980 1)" font-size="8.30" text-anchor="start" stroke="#111111" stroke-width="0.15">FL</text>
<path d="M161.70 242.05H180.50" stroke="#000080" stroke-width="0.95"/>
<path d="M171.10 242.05h0" stroke="#000070" stroke-width="1.90" stroke-linecap="round"/>
<text transform="translate(182.80 244.85) scale(0.980 1)" font-size="8.30" text-anchor="start" stroke="#111111" stroke-width="0.15">WB</text>
<path d="M202.30 221.50H221.10" stroke="#00F000" stroke-width="0.95"/>
<path d="M211.70 221.50h0" stroke="#00D000" stroke-width="1.90" stroke-linecap="round"/>
<text transform="translate(222.90 224.30) scale(0.980 1)" font-size="8.30" text-anchor="start" stroke="#111111" stroke-width="0.15">GL</text>
<path d="M202.30 231.75H221.10" stroke="#00BFFF" stroke-width="0.95"/>
<path d="M211.70 231.75h0" stroke="#00A8F0" stroke-width="1.90" stroke-linecap="round"/>
<text transform="translate(222.90 234.55) scale(0.980 1)" font-size="8.30" text-anchor="start" stroke="#111111" stroke-width="0.15">WL</text>
<path d="M202.30 242.05H221.10" stroke="#FF1010" stroke-width="0.95"/>
<path d="M211.70 242.05h0" stroke="#E80000" stroke-width="1.90" stroke-linecap="round"/>
<text transform="translate(222.90 244.85) scale(0.980 1)" font-size="8.30" text-anchor="start" stroke="#111111" stroke-width="0.15">BL</text></g>
<g><rect x="326.70" y="214.10" width="218.40" height="176.20" fill="none" stroke="#5c5c5c" stroke-width="1.15"/>
<clipPath id="cpd"><rect x="326.70" y="214.10" width="218.40" height="176.70"/></clipPath><g clip-path="url(#cpd)">
<polyline points="344.53,357.09 348.99,357.77 353.44,390.30 357.90,373.36 362.36,363.19 366.81,362.65 371.27,364.55 375.73,364.82 380.19,365.23 384.64,365.63 389.10,366.58 393.56,367.94 398.01,369.97 402.47,372.00 406.93,374.04 411.39,375.80 415.84,377.29 420.30,378.64 424.76,379.73 429.21,380.81 433.67,381.63 438.13,382.44 442.59,382.98 447.04,383.52 451.50,384.00 455.96,384.47 460.41,384.95 464.87,385.42 469.33,385.78 473.79,386.14 478.24,386.50 482.70,386.87 487.16,387.23 491.61,387.59 496.07,387.59 500.53,387.59 504.99,387.86 509.44,388.00 513.90,388.27 518.36,388.67 522.81,381.35 527.27,378.64" fill="none" stroke="#FF8000" stroke-width="1.02" stroke-linejoin="round"/>
<path d="M344.53 357.09h0M348.99 357.77h0M353.44 390.30h0M357.90 373.36h0M362.36 363.19h0M366.81 362.65h0M371.27 364.55h0M375.73 364.82h0M380.19 365.23h0M384.64 365.63h0M389.10 366.58h0M393.56 367.94h0M398.01 369.97h0M402.47 372.00h0M406.93 374.04h0M411.39 375.80h0M415.84 377.29h0M420.30 378.64h0M424.76 379.73h0M429.21 380.81h0M433.67 381.63h0M438.13 382.44h0M442.59 382.98h0M447.04 383.52h0M451.50 384.00h0M455.96 384.47h0M460.41 384.95h0M464.87 385.42h0M469.33 385.78h0M473.79 386.14h0M478.24 386.50h0M482.70 386.87h0M487.16 387.23h0M491.61 387.59h0M496.07 387.59h0M500.53 387.59h0M504.99 387.86h0M509.44 388.00h0M513.90 388.27h0M518.36 388.67h0M522.81 381.35h0M527.27 378.64h0" stroke="#F07000" stroke-width="1.90" stroke-linecap="round" fill="none"/>
<polyline points="344.53,386.23 348.99,386.91 353.44,390.03 357.90,390.16 362.36,390.03 366.81,389.76 371.27,389.35 375.73,388.94 380.19,388.13 384.64,387.18 389.10,385.96 393.56,384.34 398.01,382.57 402.47,380.68 406.93,378.78 411.39,377.02 415.84,375.39 420.30,374.04 424.76,372.95 429.21,372.00 433.67,371.19 438.13,370.51 442.59,369.56 447.04,368.61 451.50,367.87 455.96,367.12 460.41,366.85 464.87,366.58 469.33,366.38 473.79,366.17 478.24,366.04 482.70,366.58 487.16,367.94 491.61,369.56 496.07,372.00 500.53,375.66 504.99,379.46 509.44,382.44 513.90,384.34 518.36,389.62 522.81,390.30 527.27,390.30" fill="none" stroke="#1E8A1E" stroke-width="1.02" stroke-linejoin="round"/>
<path d="M344.53 386.23h0M348.99 386.91h0M353.44 390.03h0M357.90 390.16h0M362.36 390.03h0M366.81 389.76h0M371.27 389.35h0M375.73 388.94h0M380.19 388.13h0M384.64 387.18h0M389.10 385.96h0M393.56 384.34h0M398.01 382.57h0M402.47 380.68h0M406.93 378.78h0M411.39 377.02h0M415.84 375.39h0M420.30 374.04h0M424.76 372.95h0M429.21 372.00h0M433.67 371.19h0M438.13 370.51h0M442.59 369.56h0M447.04 368.61h0M451.50 367.87h0M455.96 367.12h0M460.41 366.85h0M464.87 366.58h0M469.33 366.38h0M473.79 366.17h0M478.24 366.04h0M482.70 366.58h0M487.16 367.94h0M491.61 369.56h0M496.07 372.00h0M500.53 375.66h0M504.99 379.46h0M509.44 382.44h0M513.90 384.34h0M518.36 389.62h0M522.81 390.30h0M527.27 390.30h0" stroke="#0F6A0F" stroke-width="1.90" stroke-linecap="round" fill="none"/>
<polyline points="344.53,389.89 348.99,389.89 353.44,231.45 357.90,312.37 362.36,366.04 366.81,371.60 371.27,367.67 375.73,366.45 380.19,366.72 384.64,367.80 389.10,372.14 393.56,376.61 398.01,380.13 402.47,383.25 406.93,385.15 411.39,386.50 415.84,387.59 420.30,388.27 424.76,388.67 429.21,388.94 433.67,388.94 438.13,388.94 442.59,388.94 447.04,388.94 451.50,388.94 455.96,388.94 460.41,388.94 464.87,388.94 469.33,388.94 473.79,388.94 478.24,388.94 482.70,388.85 487.16,388.76 491.61,388.67 496.07,388.00 500.53,387.59 504.99,389.49 509.44,390.30 513.90,390.30 518.36,390.30 522.81,390.30 527.27,390.30" fill="none" stroke="#000080" stroke-width="1.02" stroke-linejoin="round"/>
<path d="M344.53 389.89h0M348.99 389.89h0M353.44 231.45h0M357.90 312.37h0M362.36 366.04h0M366.81 371.60h0M371.27 367.67h0M375.73 366.45h0M380.19 366.72h0M384.64 367.80h0M389.10 372.14h0M393.56 376.61h0M398.01 380.13h0M402.47 383.25h0M406.93 385.15h0M411.39 386.50h0M415.84 387.59h0M420.30 388.27h0M424.76 388.67h0M429.21 388.94h0M433.67 388.94h0M438.13 388.94h0M442.59 388.94h0M447.04 388.94h0M451.50 388.94h0M455.96 388.94h0M460.41 388.94h0M464.87 388.94h0M469.33 388.94h0M473.79 388.94h0M478.24 388.94h0M482.70 388.85h0M487.16 388.76h0M491.61 388.67h0M496.07 388.00h0M500.53 387.59h0M504.99 389.49h0M509.44 390.30h0M513.90 390.30h0M518.36 390.30h0M522.81 390.30h0M527.27 390.30h0" stroke="#000070" stroke-width="1.90" stroke-linecap="round" fill="none"/>
<polyline points="344.53,390.30 348.99,390.30 353.44,390.30 357.90,390.16 362.36,389.89 366.81,389.49 371.27,388.94 375.73,388.00 380.19,386.64 384.64,384.61 389.10,382.17 393.56,379.46 398.01,376.75 402.47,374.44 406.93,372.82 411.39,371.73 415.84,371.32 420.30,371.05 424.76,371.32 429.21,371.87 433.67,372.68 438.13,373.36 442.59,373.70 447.04,374.04 451.50,374.17 455.96,374.31 460.41,374.17 464.87,374.04 469.33,373.76 473.79,373.22 478.24,372.82 482.70,371.19 487.16,367.94 491.61,363.87 496.07,359.67 500.53,352.08 504.99,340.83 509.44,329.85 513.90,324.16 518.36,316.16 522.81,327.27 527.27,331.34" fill="none" stroke="#00F000" stroke-width="1.02" stroke-linejoin="round"/>
<path d="M344.53 390.30h0M348.99 390.30h0M353.44 390.30h0M357.90 390.16h0M362.36 389.89h0M366.81 389.49h0M371.27 388.94h0M375.73 388.00h0M380.19 386.64h0M384.64 384.61h0M389.10 382.17h0M393.56 379.46h0M398.01 376.75h0M402.47 374.44h0M406.93 372.82h0M411.39 371.73h0M415.84 371.32h0M420.30 371.05h0M424.76 371.32h0M429.21 371.87h0M433.67 372.68h0M438.13 373.36h0M442.59 373.70h0M447.04 374.04h0M451.50 374.17h0M455.96 374.31h0M460.41 374.17h0M464.87 374.04h0M469.33 373.76h0M473.79 373.22h0M478.24 372.82h0M482.70 371.19h0M487.16 367.94h0M491.61 363.87h0M496.07 359.67h0M500.53 352.08h0M504.99 340.83h0M509.44 329.85h0M513.90 324.16h0M518.36 316.16h0M522.81 327.27h0M527.27 331.34h0" stroke="#00D000" stroke-width="1.90" stroke-linecap="round" fill="none"/>
<polyline points="344.53,390.30 348.99,390.30 353.44,390.30 357.90,390.03 362.36,385.01 366.81,351.54 371.27,314.53 375.73,298.81 380.19,314.53 384.64,323.07 389.10,341.51 393.56,357.09 398.01,368.21 402.47,378.37 406.93,384.61 411.39,388.40 415.84,389.89 420.30,390.30 424.76,390.30 429.21,390.30 433.67,390.30 438.13,390.30 442.59,390.30 447.04,390.30 451.50,390.30 455.96,390.30 460.41,390.30 464.87,390.30 469.33,390.30 473.79,390.30 478.24,390.30 482.70,390.30 487.16,390.30 491.61,389.89 496.07,388.94 500.53,388.27 504.99,389.89 509.44,390.30 513.90,390.30 518.36,390.30 522.81,390.30 527.27,390.30" fill="none" stroke="#00BFFF" stroke-width="1.02" stroke-linejoin="round"/>
<path d="M344.53 390.30h0M348.99 390.30h0M353.44 390.30h0M357.90 390.03h0M362.36 385.01h0M366.81 351.54h0M371.27 314.53h0M375.73 298.81h0M380.19 314.53h0M384.64 323.07h0M389.10 341.51h0M393.56 357.09h0M398.01 368.21h0M402.47 378.37h0M406.93 384.61h0M411.39 388.40h0M415.84 389.89h0M420.30 390.30h0M424.76 390.30h0M429.21 390.30h0M433.67 390.30h0M438.13 390.30h0M442.59 390.30h0M447.04 390.30h0M451.50 390.30h0M455.96 390.30h0M460.41 390.30h0M464.87 390.30h0M469.33 390.30h0M473.79 390.30h0M478.24 390.30h0M482.70 390.30h0M487.16 390.30h0M491.61 389.89h0M496.07 388.94h0M500.53 388.27h0M504.99 389.89h0M509.44 390.30h0M513.90 390.30h0M518.36 390.30h0M522.81 390.30h0M527.27 390.30h0" stroke="#00A8F0" stroke-width="1.90" stroke-linecap="round" fill="none"/>
<polyline points="344.53,372.68 348.99,370.10 353.44,390.30 357.90,358.18 362.36,336.90 366.81,326.46 371.27,325.38 375.73,331.34 380.19,339.20 384.64,348.15 389.10,357.09 393.56,366.04 398.01,373.36 402.47,378.78 406.93,382.85 411.39,385.69 415.84,386.91 420.30,387.86 424.76,388.54 429.21,388.94 433.67,389.49 438.13,389.60 442.59,389.70 447.04,389.81 451.50,389.92 455.96,390.03 460.41,390.03 464.87,390.03 469.33,390.03 473.79,390.03 478.24,390.03 482.70,390.03 487.16,390.03 491.61,390.03 496.07,388.94 500.53,388.13 504.99,389.49 509.44,390.30 513.90,390.30 518.36,390.30 522.81,390.30 527.27,390.30" fill="none" stroke="#FF1010" stroke-width="1.02" stroke-linejoin="round"/>
<path d="M344.53 372.68h0M348.99 370.10h0M353.44 390.30h0M357.90 358.18h0M362.36 336.90h0M366.81 326.46h0M371.27 325.38h0M375.73 331.34h0M380.19 339.20h0M384.64 348.15h0M389.10 357.09h0M393.56 366.04h0M398.01 373.36h0M402.47 378.78h0M406.93 382.85h0M411.39 385.69h0M415.84 386.91h0M420.30 387.86h0M424.76 388.54h0M429.21 388.94h0M433.67 389.49h0M438.13 389.60h0M442.59 389.70h0M447.04 389.81h0M451.50 389.92h0M455.96 390.03h0M460.41 390.03h0M464.87 390.03h0M469.33 390.03h0M473.79 390.03h0M478.24 390.03h0M482.70 390.03h0M487.16 390.03h0M491.61 390.03h0M496.07 388.94h0M500.53 388.13h0M504.99 389.49h0M509.44 390.30h0M513.90 390.30h0M518.36 390.30h0M522.81 390.30h0M527.27 390.30h0" stroke="#E80000" stroke-width="1.90" stroke-linecap="round" fill="none"/>
</g>
<path d="M344.53 390.30v-3.7M366.81 390.30v-3.7M389.10 390.30v-3.7M411.39 390.30v-3.7M433.67 390.30v-3.7M455.96 390.30v-3.7M478.24 390.30v-3.7M500.53 390.30v-3.7M522.81 390.30v-3.7M326.70 376.75h3.7M326.70 363.19h3.7M326.70 349.64h3.7M326.70 336.08h3.7M326.70 322.53h3.7M326.70 308.98h3.7M326.70 295.42h3.7M326.70 281.87h3.7M326.70 268.32h3.7M326.70 254.76h3.7M326.70 241.21h3.7M326.70 227.65h3.7" stroke="#333333" stroke-width="0.95" fill="none"/>
<text transform="translate(323.10 392.70) scale(0.920 1)" font-size="7.20" text-anchor="end" stroke="#111111" stroke-width="0.12">0</text>
<text transform="translate(323.10 379.15) scale(0.920 1)" font-size="7.20" text-anchor="end" stroke="#111111" stroke-width="0.12">1</text>
<text transform="translate(323.10 365.59) scale(0.920 1)" font-size="7.20" text-anchor="end" stroke="#111111" stroke-width="0.12">2</text>
<text transform="translate(323.10 352.04) scale(0.920 1)" font-size="7.20" text-anchor="end" stroke="#111111" stroke-width="0.12">3</text>
<text transform="translate(323.10 338.48) scale(0.920 1)" font-size="7.20" text-anchor="end" stroke="#111111" stroke-width="0.12">4</text>
<text transform="translate(323.10 324.93) scale(0.920 1)" font-size="7.20" text-anchor="end" stroke="#111111" stroke-width="0.12">5</text>
<text transform="translate(323.10 311.38) scale(0.920 1)" font-size="7.20" text-anchor="end" stroke="#111111" stroke-width="0.12">6</text>
<text transform="translate(323.10 297.82) scale(0.920 1)" font-size="7.20" text-anchor="end" stroke="#111111" stroke-width="0.12">7</text>
<text transform="translate(323.10 284.27) scale(0.920 1)" font-size="7.20" text-anchor="end" stroke="#111111" stroke-width="0.12">8</text>
<text transform="translate(323.10 270.72) scale(0.920 1)" font-size="7.20" text-anchor="end" stroke="#111111" stroke-width="0.12">9</text>
<text transform="translate(323.10 257.16) scale(0.920 1)" font-size="7.20" text-anchor="end" stroke="#111111" stroke-width="0.12">10</text>
<text transform="translate(323.10 243.61) scale(0.920 1)" font-size="7.20" text-anchor="end" stroke="#111111" stroke-width="0.12">11</text>
<text transform="translate(323.10 230.05) scale(0.920 1)" font-size="7.20" text-anchor="end" stroke="#111111" stroke-width="0.12">12</text>
<text transform="translate(323.10 216.50) scale(0.920 1)" font-size="7.20" text-anchor="end" stroke="#111111" stroke-width="0.12">13</text>
<text transform="translate(344.53 399.70) scale(0.920 1)" font-size="7.20" text-anchor="middle" stroke="#111111" stroke-width="0.12">5</text>
<text transform="translate(366.81 399.70) scale(0.920 1)" font-size="7.20" text-anchor="middle" stroke="#111111" stroke-width="0.12">10</text>
<text transform="translate(389.10 399.70) scale(0.920 1)" font-size="7.20" text-anchor="middle" stroke="#111111" stroke-width="0.12">15</text>
<text transform="translate(411.39 399.70) scale(0.920 1)" font-size="7.20" text-anchor="middle" stroke="#111111" stroke-width="0.12">20</text>
<text transform="translate(433.67 399.70) scale(0.920 1)" font-size="7.20" text-anchor="middle" stroke="#111111" stroke-width="0.12">25</text>
<text transform="translate(455.96 399.70) scale(0.920 1)" font-size="7.20" text-anchor="middle" stroke="#111111" stroke-width="0.12">30</text>
<text transform="translate(478.24 399.70) scale(0.920 1)" font-size="7.20" text-anchor="middle" stroke="#111111" stroke-width="0.12">35</text>
<text transform="translate(500.53 399.70) scale(0.920 1)" font-size="7.20" text-anchor="middle" stroke="#111111" stroke-width="0.12">40</text>
<text transform="translate(522.81 399.70) scale(0.920 1)" font-size="7.20" text-anchor="middle" stroke="#111111" stroke-width="0.12">45</text>
<text transform="translate(545.10 399.70) scale(0.920 1)" font-size="7.20" text-anchor="middle" stroke="#111111" stroke-width="0.12">50</text>
<text transform="translate(436.10 409.00) scale(0.944 1)" font-size="9.80" text-anchor="middle" stroke="#111111" stroke-width="0.14">Terrain position gradient</text>
<text transform="translate(315.40 302.15) rotate(-90) scale(0.916 1)" font-size="9.00" text-anchor="middle" stroke="#111111" stroke-width="0.14">LULC types average distribution index of flatlands</text>
<text transform="translate(331.80 226.10)" font-size="9.20" text-anchor="start" stroke="#111111" stroke-width="0.18">(d)</text>
<path d="M467.40 221.70H486.20" stroke="#FF8000" stroke-width="0.95"/>
<path d="M476.80 221.70h0" stroke="#F07000" stroke-width="1.90" stroke-linecap="round"/>
<text transform="translate(488.50 224.50) scale(0.980 1)" font-size="8.30" text-anchor="start" stroke="#111111" stroke-width="0.15">CL</text>
<path d="M467.40 231.95H486.20" stroke="#1E8A1E" stroke-width="0.95"/>
<path d="M476.80 231.95h0" stroke="#0F6A0F" stroke-width="1.90" stroke-linecap="round"/>
<text transform="translate(488.50 234.75) scale(0.980 1)" font-size="8.30" text-anchor="start" stroke="#111111" stroke-width="0.15">FL</text>
<path d="M467.40 242.25H486.20" stroke="#000080" stroke-width="0.95"/>
<path d="M476.80 242.25h0" stroke="#000070" stroke-width="1.90" stroke-linecap="round"/>
<text transform="translate(488.50 245.05) scale(0.980 1)" font-size="8.30" text-anchor="start" stroke="#111111" stroke-width="0.15">WB</text>
<path d="M508.00 221.70H526.80" stroke="#00F000" stroke-width="0.95"/>
<path d="M517.40 221.70h0" stroke="#00D000" stroke-width="1.90" stroke-linecap="round"/>
<text transform="translate(528.60 224.50) scale(0.980 1)" font-size="8.30" text-anchor="start" stroke="#111111" stroke-width="0.15">GL</text>
<path d="M508.00 231.95H526.80" stroke="#00BFFF" stroke-width="0.95"/>
<path d="M517.40 231.95h0" stroke="#00A8F0" stroke-width="1.90" stroke-linecap="round"/>
<text transform="translate(528.60 234.75) scale(0.980 1)" font-size="8.30" text-anchor="start" stroke="#111111" stroke-width="0.15">WL</text>
<path d="M508.00 242.25H526.80" stroke="#FF1010" stroke-width="0.95"/>
<path d="M517.40 242.25h0" stroke="#E80000" stroke-width="1.90" stroke-linecap="round"/>
<text transform="translate(528.60 245.05) scale(0.980 1)" font-size="8.30" text-anchor="start" stroke="#111111" stroke-width="0.15">BL</text></g>
</svg>
</body></html>
